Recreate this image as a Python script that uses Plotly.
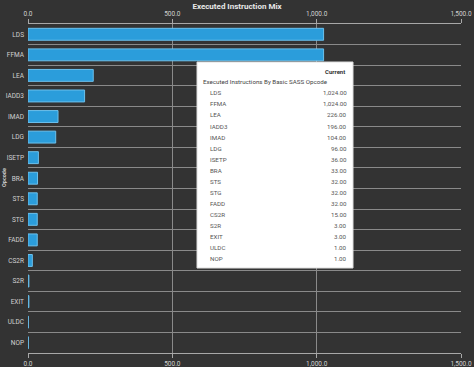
import plotly.graph_objects as go

opcodes = ["LDS", "FFMA", "LEA", "IADD3", "IMAD", "LDG", "ISETP", "BRA",
           "STS", "STG", "FADD", "CS2R", "S2R", "EXIT", "ULDC", "NOP"]
counts = [1024, 1024, 226, 196, 104, 96, 36, 33, 32, 32, 32, 15, 3, 3, 1, 1]
x_ticks = [0, 500, 1000, 1500]
x_tick_text = ["0.0", "500.0", "1,000.0", "1,500.0"]

BG = "#333333"
GRID = "#8a8a8a"
TXT = "#d0d0d0"
FONT = "Roboto"

pos = list(range(len(opcodes)))

fig = go.Figure()
fig.add_trace(go.Bar(
    x=counts, y=pos, orientation="h", width=0.58,
    marker=dict(color="#2b9ddb", line=dict(color="#6cc0ec", width=1)),
    hoverinfo="skip", showlegend=False,
))
fig.add_trace(go.Scatter(x=[0, 1500], y=[0, 0], xaxis="x2", mode="markers",
                         marker=dict(opacity=0), hoverinfo="skip", showlegend=False))

axis_common = dict(
    range=[0, 1500], tickvals=x_ticks, ticktext=x_tick_text,
    showgrid=True, gridcolor=GRID, gridwidth=1, zeroline=False,
    showline=True, linecolor="#a8a8a8", linewidth=1,
    ticks="outside", ticklen=4, tickcolor="#a8a8a8",
    tickfont=dict(family=FONT, size=6.5, color=TXT), automargin=False,
    ticklabeloverflow="allow",
)

fig.update_layout(
    width=474, height=367,
    margin=dict(l=28, r=13, t=24, b=14, autoexpand=False),
    paper_bgcolor=BG, plot_bgcolor=BG,
    bargap=0.4,
    title=dict(text="<b>Executed Instruction Mix</b>", x=0.5, xanchor="center",
               y=0.99, yanchor="top", font=dict(family=FONT, size=8, color="#e8e8e8")),
    xaxis=dict(side="bottom", **axis_common),
    xaxis2=dict(side="top", overlaying="x", anchor="y", **axis_common),
    yaxis=dict(
        range=[len(opcodes) - 0.5, -0.5],
        tickvals=pos, ticktext=opcodes, automargin=False,
        showgrid=False, zeroline=False, showline=False,
        ticks="", ticklabelstandoff=3,
        tickfont=dict(family=FONT, size=6.5, color=TXT),
        minor=dict(tick0=0.5, dtick=1, showgrid=True, gridcolor=GRID, gridwidth=1, ticks=""),
    ),
)

def py(pix):
    return (353 - pix) / 329.0

def px(pix):
    return (pix - 28) / 433.0

fig.add_annotation(xref="paper", yref="paper", x=px(4), y=py(178), xanchor="center",
                   yanchor="middle", showarrow=False, text="<b>Opcode</b>", textangle=-90,
                   font=dict(family=FONT, size=5.5, color=TXT))

# tooltip-like panel
fig.add_shape(type="rect", xref="paper", yref="paper", x0=px(197), x1=px(353),
              y0=py(268), y1=py(62),
              fillcolor="#ffffff", line=dict(color="#dddddd", width=1), layer="above")

fig.add_annotation(xref="paper", yref="paper", x=px(347), y=py(71), xanchor="right",
                   yanchor="middle", showarrow=False, text="<b>Current</b>",
                   font=dict(family=FONT, size=6, color="#333333"))
fig.add_annotation(xref="paper", yref="paper", x=px(201), y=py(82), xanchor="left",
                   yanchor="middle", showarrow=False,
                   text="Executed Instructions By Basic SASS Opcode",
                   font=dict(family=FONT, size=6.2, color="#444444"))
for i, (name, val) in enumerate(zip(opcodes, counts)):
    yy = py(93.3 + i * 11.07)
    fig.add_annotation(xref="paper", yref="paper", x=px(208), y=yy, xanchor="left",
                       yanchor="middle", showarrow=False, text=name,
                       font=dict(family=FONT, size=6.2, color="#555555"))
    fig.add_annotation(xref="paper", yref="paper", x=px(349), y=yy, xanchor="right",
                       yanchor="middle", showarrow=False, text=f"{val:,.2f}",
                       font=dict(family=FONT, size=6.2, color="#555555"))

fig.write_html("out.html", config={"displayModeBar": False},
               post_script="document.body.style.margin='0';")
